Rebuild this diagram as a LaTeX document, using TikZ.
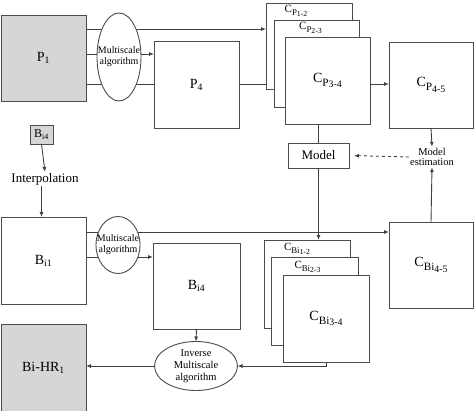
\documentclass[tikz,border=0pt]{standalone}
\usepackage{fontspec}
\usepackage{graphicx}
\setmainfont{Liberation Serif}
\usetikzlibrary{arrows.meta,shapes.geometric,backgrounds}
\newcommand{\csub}[2]{C\raisebox{-0.28em}{\scalebox{0.8}{#1\raisebox{-0.12em}{\scalebox{0.88}{#2}}}}}
\begin{document}
\begin{tikzpicture}[x=1pt,y=-1pt,
  line/.style={draw=black!75,line width=0.9pt},
  arr/.style={line,-{Latex[length=5pt,width=4pt]}},
  box/.style={draw=black!70,line width=0.9pt,fill=white,inner sep=0pt,outer sep=0pt,font=\fontsize{14}{16}\selectfont},
  gbox/.style={box,fill=black!16},
  ell/.style={ellipse,draw=black!70,line width=0.9pt,fill=white,inner sep=0pt,outer sep=0pt},
  etxt/.style={align=center,inner sep=0pt,font=\fontsize{10}{11}\selectfont},
  slab/.style={font=\fontsize{11}{12}\selectfont,inner sep=0pt},
  txt/.style={align=center,inner sep=1pt,font=\fontsize{10.5}{10.5}\selectfont}
]
\useasboundingbox (0,0) rectangle (474,410);

% top row
\node[gbox,minimum width=85,minimum height=86] (p1) at (43.5,58) {P\textsubscript{1}};
\node[ell,minimum width=44,minimum height=88] (ms1) at (119,57) {};
\node[etxt] (ms1t) at (ms1.center) {Multiscale\\algorithm};
\node[box,minimum width=85,minimum height=87] (p4) at (196.5,84.5) {P\textsubscript{4}};

\node[box,minimum width=86,minimum height=86] (cp12) at (309,46) {};
\node[slab] (lcp12) at ([xshift=-13pt,yshift=-8pt]cp12.north) {\csub{P}{1-2}};
\node[box,minimum width=85,minimum height=87] (cp23) at (316.5,63.5) {};
\node[slab] (lcp23) at ([xshift=-6pt,yshift=-8pt]cp23.north) {\csub{P}{2-3}};
\node[box,minimum width=85,minimum height=87] (cp34) at (327.5,80.5) {\csub{P}{3-4}};
\node[box,minimum width=84,minimum height=86] (cp45) at (431,85) {\csub{P}{4-5}};

\node[box,minimum width=61,minimum height=25,font=\fontsize{13}{15}\selectfont] (model) at (318.5,155.5) {Model};
\node[txt] (modest) at (432,157) {Model\\estimation};

% left column
\node[gbox,minimum width=23,minimum height=19,font=\fontsize{12}{14}\selectfont] (bsmall) at (41.5,134.5) {B\textsubscript{i4}};
\node[inner sep=1pt,font=\fontsize{13}{15}\selectfont] (interp) at (45,179) {Interpolation};

% bottom rows
\node[box,minimum width=85,minimum height=87] (bi1) at (43.5,260.5) {B\textsubscript{i1}};
\node[ell,minimum width=44,minimum height=57] (ms2) at (118,245) {};
\node[etxt] (ms2t) at (ms2.center) {Multiscale\\algorithm};
\node[box,minimum width=87,minimum height=86] (bi4) at (196.5,286) {B\textsubscript{i4}};

\node[box,minimum width=86,minimum height=88] (cbi12) at (307,284) {};
\node[slab] (lcbi12) at ([xshift=-10pt,yshift=-9pt]cbi12.north) {\csub{Bi}{1-2}};
\node[box,minimum width=87,minimum height=88] (cbi23) at (314.5,301) {};
\node[slab] (lcbi23) at ([xshift=-7pt,yshift=-10pt]cbi23.north) {\csub{Bi}{2-3}};
\node[box,minimum width=86,minimum height=87] (cbi34) at (326,318.5) {\csub{Bi}{3-4}};
\node[box,minimum width=84,minimum height=86] (cbi45) at (431,265) {\csub{Bi}{4-5}};

\node[ell,minimum width=83,minimum height=49] (ims) at (196,366) {};
\node[etxt,font=\fontsize{10.5}{12}\selectfont] (imst) at (ims.center) {Inverse\\Multiscale\\algorithm};
\node[gbox,minimum width=85,minimum height=87] (bihr) at (43.5,367.5) {Bi-HR\textsubscript{1}};

% connectors behind ellipses
\begin{pgfonlayer}{background}
\draw[arr] (p1.east |- 0,29) -- (cp12.west |- 0,29);
\draw[arr] (p1.east |- 0,54) -- (p4.west |- 0,54);
\draw[line] (p1.east |- 0,84) -- (p4.west |- 0,84);
\draw[arr] (bi1.east |- 0,232) -- (cbi45.west |- 0,232);
\draw[arr] (bi1.east |- 0,257) -- (bi4.west |- 0,257);
\end{pgfonlayer}

\draw[line] (p4.east |- 0,84) -- (cp12.west |- 0,84);
\draw[arr] (cp34.east |- 0,84) -- (cp45.west |- 0,84);
\draw[line] (model.north |- cp34.south) -- (model.north);
\draw[arr] (model.south) -- (model.south |- cbi12.north);
\draw[arr] (cp45.south) -- (modest.north);
\draw[arr,dashed,shorten >=5pt] (modest.west) -- (model.east);
\draw[arr] (cbi45.north) -- (modest.south);
\draw[arr] (bsmall.south) -- (interp.north);
\draw[arr] (bsmall.south |- interp.south) -- (bsmall.south |- bi1.north);
\draw[arr] (bi4.south) -- (ims.north);
\draw[arr] (cbi34.south) |- (ims.east);
\draw[arr] (ims.west) -- (bihr.east |- ims.west);
\end{tikzpicture}
\end{document}
